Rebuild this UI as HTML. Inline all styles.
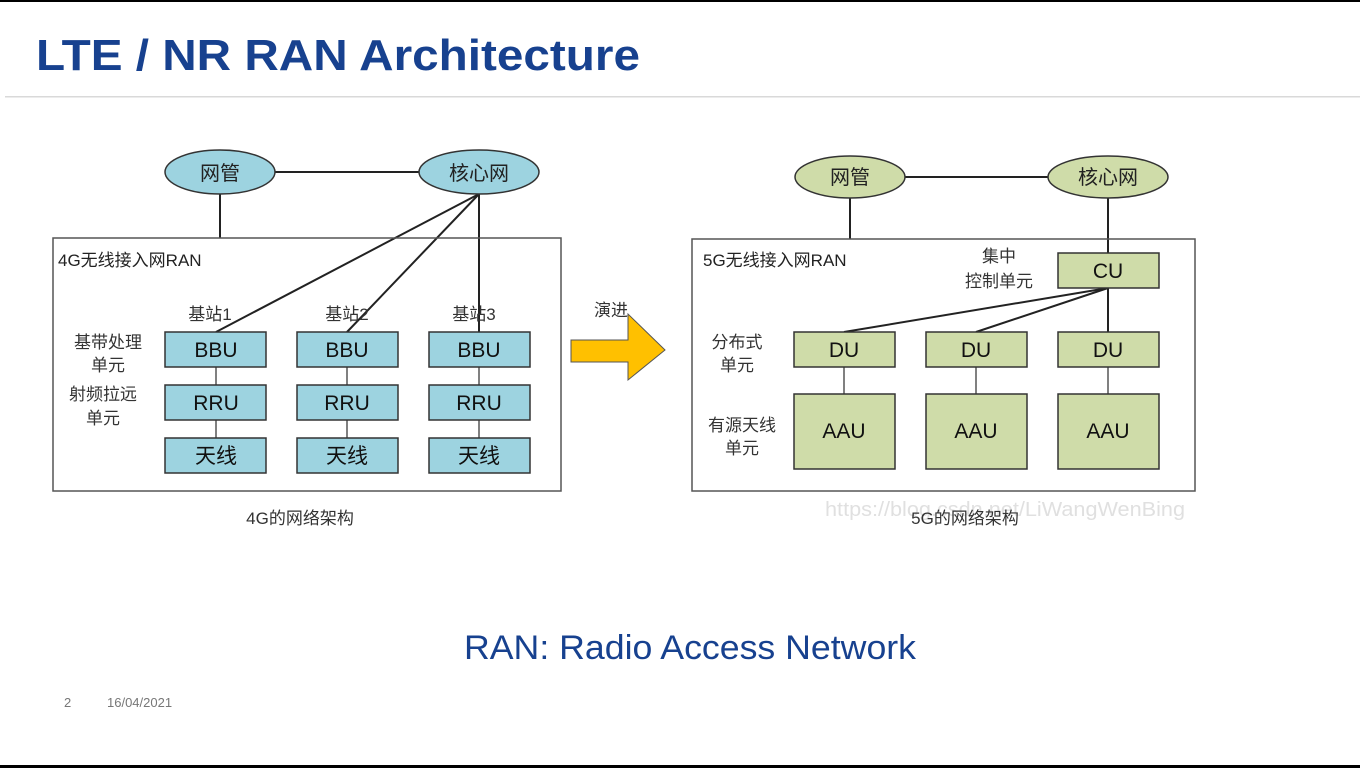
<!DOCTYPE html>
<html><head><meta charset="utf-8"><style>
html,body{margin:0;padding:0;background:#fff;}
svg{display:block;}
text{font-family:"Liberation Sans","Noto Sans CJK SC",sans-serif;}
</style></head><body>
<svg width="1360" height="768" viewBox="0 0 1360 768" xmlns="http://www.w3.org/2000/svg">
<rect x="0" y="0" width="1360" height="2" fill="#000"/>
<rect x="0" y="765" width="1360" height="3" fill="#000"/>
<text x="36" y="70" font-size="44" font-weight="bold" fill="#17418f" textLength="604" lengthAdjust="spacingAndGlyphs">LTE / NR RAN Architecture</text>
<rect x="5" y="96" width="1355" height="1.5" fill="#d9d9d9"/>

<!-- LEFT 4G -->
<g stroke="#222" stroke-width="2" fill="none">
<line x1="275" y1="172" x2="419" y2="172"/>
<line x1="220" y1="194" x2="220" y2="238"/>
<line x1="479" y1="194" x2="216" y2="332"/>
<line x1="479" y1="194" x2="347" y2="332"/>
<line x1="479" y1="194" x2="479" y2="332"/>
</g>
<rect x="53" y="238" width="508" height="253" fill="none" stroke="#555" stroke-width="1.5"/>
<ellipse cx="220" cy="172" rx="55" ry="22" fill="#9dd3e0" stroke="#333" stroke-width="1.5"/>
<ellipse cx="479" cy="172" rx="60" ry="22" fill="#9dd3e0" stroke="#333" stroke-width="1.5"/>
<text x="220" y="180" font-size="20" text-anchor="middle" fill="#222">网管</text>
<text x="479" y="180" font-size="20" text-anchor="middle" fill="#222">核心网</text>
<text x="58" y="266" font-size="17" fill="#222">4G无线接入网RAN</text>
<g stroke="#555" stroke-width="1.5">
<line x1="216" y1="367" x2="216" y2="385"/><line x1="216" y1="420" x2="216" y2="438"/>
<line x1="347" y1="367" x2="347" y2="385"/><line x1="347" y1="420" x2="347" y2="438"/>
<line x1="479" y1="367" x2="479" y2="385"/><line x1="479" y1="420" x2="479" y2="438"/>
</g>
<g fill="#9dd3e0" stroke="#333" stroke-width="1.5">
<rect x="165" y="332" width="101" height="35"/><rect x="165" y="385" width="101" height="35"/><rect x="165" y="438" width="101" height="35"/>
<rect x="297" y="332" width="101" height="35"/><rect x="297" y="385" width="101" height="35"/><rect x="297" y="438" width="101" height="35"/>
<rect x="429" y="332" width="101" height="35"/><rect x="429" y="385" width="101" height="35"/><rect x="429" y="438" width="101" height="35"/>
</g>
<g font-size="21" text-anchor="middle" fill="#111">
<text x="216" y="357">BBU</text><text x="216" y="410">RRU</text><text x="216" y="463">天线</text>
<text x="347" y="357">BBU</text><text x="347" y="410">RRU</text><text x="347" y="463">天线</text>
<text x="479" y="357">BBU</text><text x="479" y="410">RRU</text><text x="479" y="463">天线</text>
</g>
<g font-size="17" fill="#333" text-anchor="middle">
<text x="210" y="320">基站1</text><text x="347" y="320">基站2</text><text x="474" y="320">基站3</text>
<text x="108" y="348">基带处理</text><text x="108" y="371">单元</text>
<text x="103" y="400">射频拉远</text><text x="103" y="424">单元</text>
<text x="300" y="524">4G的网络架构</text>
<text x="611" y="316">演进</text>
</g>
<polygon points="571,340 628,340 628,314 665,350 628,380 628,362 571,362" fill="#ffc000" stroke="#555" stroke-width="1"/>

<!-- RIGHT 5G -->
<g stroke="#222" stroke-width="2" fill="none">
<line x1="905" y1="177" x2="1048" y2="177"/>
<line x1="850" y1="198" x2="850" y2="239"/>
<line x1="1108" y1="198" x2="1108" y2="253"/>
<line x1="1108" y1="288" x2="844" y2="332"/>
<line x1="1108" y1="288" x2="976" y2="332"/>
<line x1="1108" y1="288" x2="1108" y2="332"/>
</g>
<rect x="692" y="239" width="503" height="252" fill="none" stroke="#555" stroke-width="1.5"/>
<ellipse cx="850" cy="177" rx="55" ry="21" fill="#cfdca9" stroke="#333" stroke-width="1.5"/>
<ellipse cx="1108" cy="177" rx="60" ry="21" fill="#cfdca9" stroke="#333" stroke-width="1.5"/>
<text x="850" y="184" font-size="20" text-anchor="middle" fill="#222">网管</text>
<text x="1108" y="184" font-size="20" text-anchor="middle" fill="#222">核心网</text>
<text x="703" y="266" font-size="17" fill="#222">5G无线接入网RAN</text>
<g stroke="#555" stroke-width="1.5">
<line x1="844" y1="367" x2="844" y2="394"/><line x1="976" y1="367" x2="976" y2="394"/><line x1="1108" y1="367" x2="1108" y2="394"/>
</g>
<g fill="#cfdca9" stroke="#333" stroke-width="1.5">
<rect x="1058" y="253" width="101" height="35"/>
<rect x="794" y="332" width="101" height="35"/><rect x="926" y="332" width="101" height="35"/><rect x="1058" y="332" width="101" height="35"/>
<rect x="794" y="394" width="101" height="75"/><rect x="926" y="394" width="101" height="75"/><rect x="1058" y="394" width="101" height="75"/>
</g>
<g font-size="21" text-anchor="middle" fill="#111">
<text x="1108" y="278">CU</text>
<text x="844" y="357">DU</text><text x="976" y="357">DU</text><text x="1108" y="357">DU</text>
<text x="844" y="438">AAU</text><text x="976" y="438">AAU</text><text x="1108" y="438">AAU</text>
</g>
<g font-size="17" fill="#333" text-anchor="middle">
<text x="999" y="262">集中</text><text x="999" y="287">控制单元</text>
<text x="737" y="348">分布式</text><text x="737" y="371">单元</text>
<text x="742" y="431">有源天线</text><text x="742" y="454">单元</text>
</g>
<text x="825" y="516" font-size="20" fill="#e0e0e0" textLength="360" lengthAdjust="spacingAndGlyphs">https://blog.csdn.net/LiWangWenBing</text>
<text x="965" y="524" font-size="17" fill="#333" text-anchor="middle">5G的网络架构</text>

<text x="690" y="659" font-size="34" fill="#17418f" text-anchor="middle" textLength="452" lengthAdjust="spacingAndGlyphs">RAN: Radio Access Network</text>
<text x="64" y="707" font-size="13" fill="#777">2</text>
<text x="107" y="707" font-size="13" fill="#777">16/04/2021</text>
</svg>
</body></html>
